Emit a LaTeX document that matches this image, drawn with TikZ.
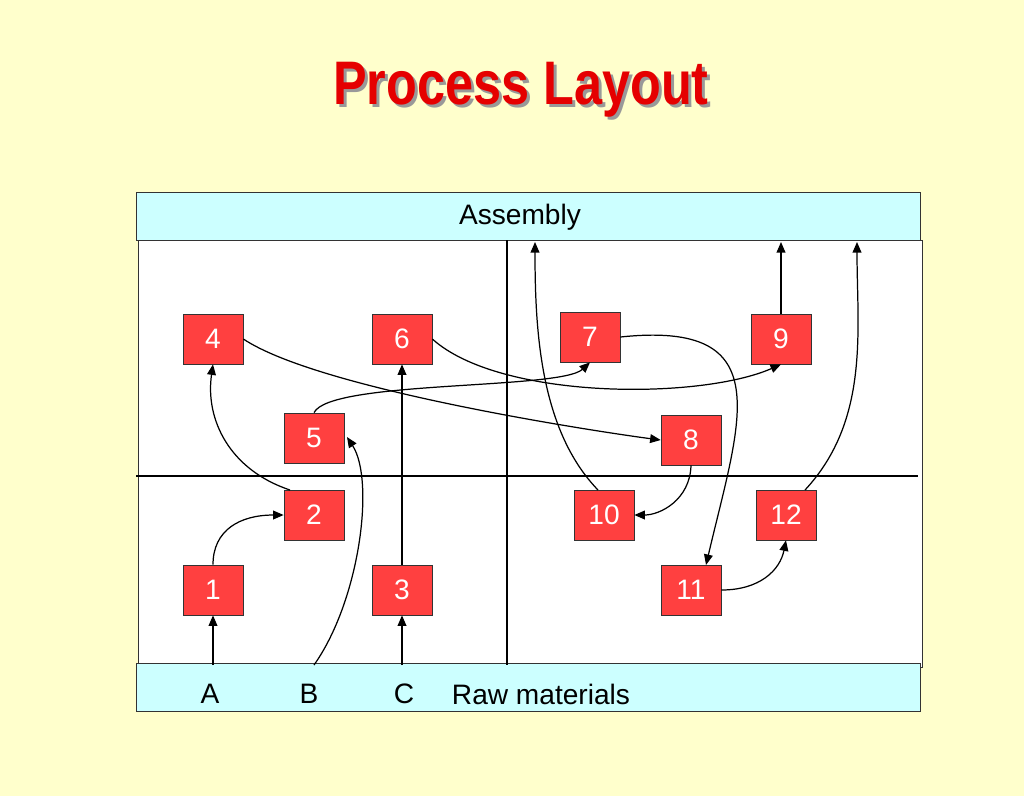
\documentclass[tikz,border=0pt]{standalone}
\usepackage{fontspec}
\setmainfont{Liberation Sans}
\usetikzlibrary{arrows.meta}
\definecolor{bg}{HTML}{FFFFCC}
\definecolor{cy}{HTML}{CCFFFF}
\definecolor{rd}{HTML}{FF4040}
\begin{document}
\begin{tikzpicture}[x=0.02cm,y=-0.02cm,
 st/.style={draw=black!80,fill=rd,minimum width=1.2cm,minimum height=1.0cm,inner sep=0,text=white,font=\fontsize{16}{16}\selectfont},
 ar/.style={-{Triangle[length=6pt,width=5pt]},line width=0.7pt},
 lb/.style={font=\fontsize{16}{16}\selectfont}]
\fill[bg] (0,0) rectangle (1024,796);
\useasboundingbox (0,0) rectangle (1024,796);
\node[text=black!40] at (524,93) {\scalebox{0.82}[1]{\bfseries\fontsize{35}{35}\selectfont Process Layout}};
\node[text=red!90!black] (title) at (521,90) {\scalebox{0.82}[1]{\bfseries\fontsize{35}{35}\selectfont Process Layout}};
\draw[fill=white,draw=black!80] (138,240) rectangle (922,667);
\draw[fill=cy,draw=black!80] (136,192) rectangle (920,240);
\draw[fill=cy,draw=black!80] (136,663) rectangle (920,711);
\draw[line width=0.8pt] (507,240) -- (507,665);
\draw[line width=0.8pt] (136,476) -- (918,476);
\node[lb] (asm) at (520,217) {Assembly};
\node[lb] (A) at (210,694) {A};
\node[lb] (B) at (309,694) {B};
\node[lb] (C) at (404,694) {C};
\node[lb] (rm) at (541,694) {Raw materials};
\node[st] (n4) at (213,339) {4};
\node[st] (n6) at (402,339) {6};
\node[st] (n7) at (590,337) {7};
\node[st] (n9) at (781,339) {9};
\node[st] (n5) at (314,438) {5};
\node[st] (n8) at (691,440) {8};
\node[st] (n2) at (314,515) {2};
\node[st] (n10) at (604,515) {10};
\node[st] (n12) at (786,515) {12};
\node[st] (n1) at (213,590) {1};
\node[st] (n3) at (402,590) {3};
\node[st] (n11) at (691,590) {11};
\coordinate (a0) at (213,665); \coordinate (b0) at (314,665); \coordinate (c0) at (402,665);
\coordinate (t1) at (535,242); \coordinate (t2) at (781,242); \coordinate (t3) at (857,242);
\draw[ar] (a0) -- (n1);
\draw[ar] (c0) -- (n3);
\draw[ar] (n3) -- (n6);
\draw[ar] (n9) -- (t2);
\draw[ar] (n1.north) .. controls (213,530) and (240,515) .. (n2.west);
\draw[ar] (290,490) .. controls (230,470) and (205,420) .. (n4.south);
\draw[ar] (b0) .. controls (360,600) and (375,480) .. (347,437);
\draw[ar] (n5.north) .. controls (330,380) and (560,390) .. (n7.south);
\draw[ar] (n4.east) .. controls (320,390) and (600,432) .. (n8.west);
\draw[ar] (n6.east) .. controls (500,400) and (700,400) .. (n9.south);
\draw[ar] (n7.east) .. controls (780,320) and (740,420) .. (706,565);
\draw[ar] (n8.south) .. controls (690,500) and (660,515) .. (n10.east);
\draw[ar] (598,490) .. controls (540,430) and (535,330) .. (t1);
\draw[ar] (n11.east) .. controls (760,590) and (780,570) .. (n12.south);
\draw[ar] (805,490) .. controls (870,420) and (857,330) .. (t3);
\end{tikzpicture}
\end{document}
